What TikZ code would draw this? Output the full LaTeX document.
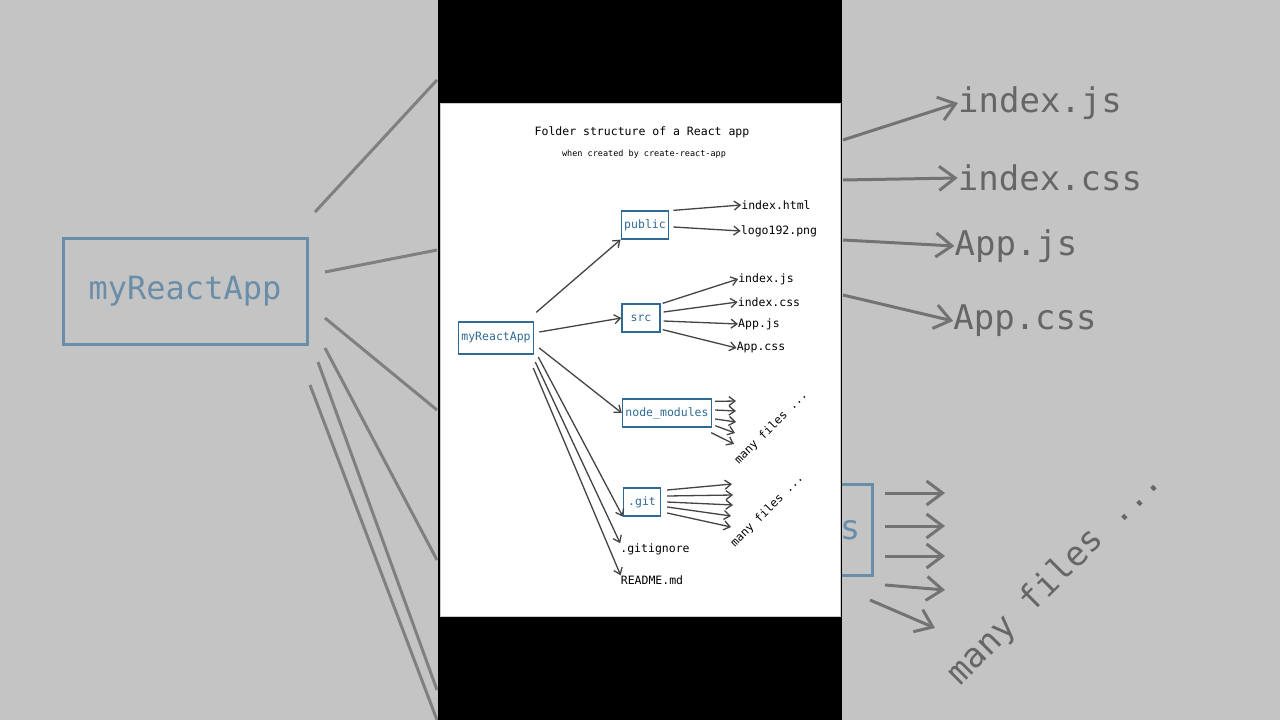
\documentclass[tikz,border=0pt]{standalone}
\usepackage{fontspec}
\setmonofont{DejaVu Sans Mono}
\usetikzlibrary{arrows.meta}
\definecolor{bx}{HTML}{2F6A96}
\definecolor{ar}{HTML}{444444}
\definecolor{bg}{HTML}{C4C4C4}
\tikzset{
 folder/.style={draw=bx,line width=1.3pt,text=bx,font=\fontsize{11.5}{13}\selectfont\ttfamily,inner sep=3pt,minimum height=28pt},
 file/.style={font=\fontsize{11.5}{13}\selectfont\ttfamily,text=black,inner sep=0pt},
 con/.style={draw=ar,line width=1.3pt,-{Straight Barb[length=6pt,width=9pt]}},
 ghost/.style={draw=black!55,line width=3pt,-{Straight Barb[length=16pt,width=24pt]}},
 gtext/.style={font=\fontsize{34}{40}\selectfont\ttfamily,text=black!60,inner sep=0pt},
}
\begin{document}
\begin{tikzpicture}[x=1pt,y=-1pt]
\useasboundingbox (0,0) rectangle (1280,720);
\fill[bg] (0,0) rectangle (1280,720);
% ghost background
\node[draw=bx!60!bg,line width=3pt,text=bx!60!bg,font=\fontsize{32}{38}\selectfont\ttfamily,minimum width=244pt,minimum height=106pt] (gbox) at (185,291) {myReactApp};
\coordinate (l1) at (437,80); \coordinate (l2) at (437,250); \coordinate (l3) at (437,410);
\coordinate (l4) at (437,560); \coordinate (l5) at (437,690); \coordinate (l6) at (437,720);
\draw[draw=black!50,line width=3pt] (315,212) -- (l1);
\draw[draw=black!50,line width=3pt] (325,272) -- (l2);
\draw[draw=black!50,line width=3pt] (325,318) -- (l3);
\draw[draw=black!50,line width=3pt] (325,348) -- (l4);
\draw[draw=black!50,line width=3pt] (318,362) -- (l5);
\draw[draw=black!50,line width=3pt] (310,385) -- (l6);
\node[gtext] (g1) at (1040,103) {index.js};
\node[gtext] (g2) at (1050,178) {index.css};
\node[gtext] (g3) at (1016,246) {App.js};
\node[gtext] (g4) at (1025,321) {App.css};
\draw[ghost] (843,140) -- (g1.west);
\draw[ghost] (843,180) -- (g2.west);
\draw[ghost] (843,240) -- (g3.west);
\draw[ghost] (843,295) -- (g4.west);
\draw[draw=bx!60!bg,line width=3pt] (842,484) -- (872,484) -- (872,575) -- (842,575);
\node[gtext,text=bx!60!bg] (gs) at (850,530) {s};
\foreach \a/\b in {493/493,526/526,556/556,585/590}{\draw[ghost] (885,\a) -- (945,\b);}
\draw[ghost] (870,600) -- (935,628);
\node[gtext,rotate=45] (gm) at (1055,578) {many files ...};
% black column and card
\fill[black] (438,0) rectangle (842,720);
\fill[white] (440,103) rectangle (840,616);
\draw[black!20] (440,103) rectangle (840,616);
% titles
\node[file] (t1) at (642,132) {Folder structure of a React app};
\node[file,font=\fontsize{8.5}{10}\selectfont\ttfamily] (t2) at (644,154) {when created by create-react-app};
% folders
\node[folder,minimum height=32pt] (root) at (496,338) {myReactApp};
\node[folder] (pub) at (645,225) {public};
\node[folder,minimum width=38pt] (src) at (641,318) {src};
\node[folder] (nm) at (667,413) {node\_modules};
\node[folder,minimum width=37pt] (git) at (642,502) {.git};
% files
\node[file] (gi) at (655,549) {.gitignore};
\node[file] (rd) at (652,580) {README.md};
\node[file] (ih) at (776,205) {index.html};
\node[file] (lg) at (779,231) {logo192.png};
\node[file] (ij) at (766,279) {index.js};
\node[file] (ic) at (769,302) {index.css};
\node[file] (aj) at (759,324) {App.js};
\node[file] (ac) at (761,348) {App.css};
\node[file,rotate=45] (m1) at (771,428) {many files ...};
\node[file,rotate=45] (m2) at (767,511) {many files ...};
% connectors from root
\draw[con] (root.north east) ++(2,-9) -- (pub.south west);
\draw[con] (root.east) ++(5,-6) -- (src.west);
\draw[con] (root.east) ++(5,10) -- (nm.west);
\draw[con] (root.east) ++(4,19) -- (git.south west);
\draw[con] (root.east) ++(1,24) -- (gi.north west);
\draw[con] (root.east) ++(-1,30) -- (rd.north west);
% public
\draw[con] (pub.north east) ++(4,0) -- (ih.west);
\draw[con] (pub.east) ++(4,2) -- (lg.west);
% src
\draw[con] (src.north east) ++(2,0) -- (ij.west);
\draw[con] (src.east) ++(3,-6) -- (ic.west);
\draw[con] (src.east) ++(3,3) -- (aj.west);
\draw[con] (src.south east) ++(2,-3) -- (ac.west);
% node_modules stubs
\coordinate (n1) at (736,401); \coordinate (n2) at (736,411); \coordinate (n3) at (736,422);
\coordinate (n4) at (735,433); \coordinate (n5) at (734,444);
\draw[con] (nm.north east) ++(3,3) -- (n1);
\draw[con] (nm.east) ++(3,-3) -- (n2);
\draw[con] (nm.east) ++(3,6) -- (n3);
\draw[con] (nm.south east) ++(3,-2) -- (n4);
\draw[con] (nm.south east) ++(-1,5) -- (n5);
% git stubs
\coordinate (q1) at (732,484); \coordinate (q2) at (733,495); \coordinate (q3) at (733,505);
\coordinate (q4) at (731,516); \coordinate (q5) at (731,527);
\draw[con] (git.east) ++(6,-12) -- (q1);
\draw[con] (git.east) ++(6,-6) -- (q2);
\draw[con] (git.east) ++(6,0) -- (q3);
\draw[con] (git.east) ++(6,5) -- (q4);
\draw[con] (git.east) ++(6,11) -- (q5);
\end{tikzpicture}
\end{document}
